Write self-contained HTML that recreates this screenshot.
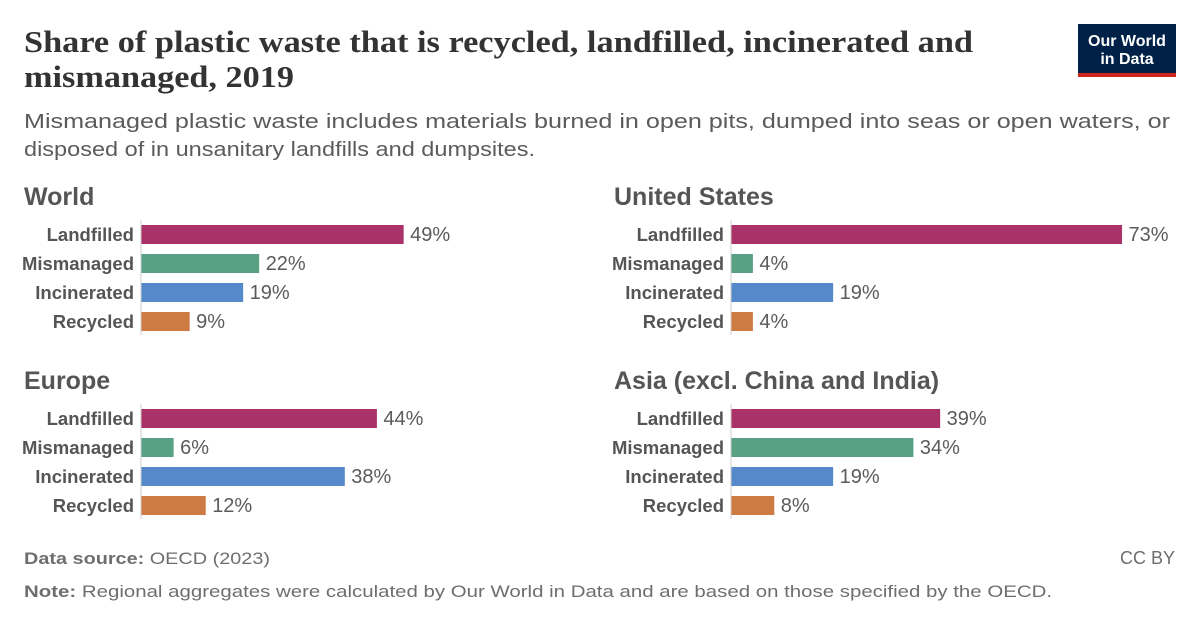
<!DOCTYPE html>
<html><head><meta charset="utf-8"><style>
body{margin:0;background:#fff;width:1200px;height:627px;overflow:hidden;font-family:"Liberation Sans",sans-serif}
</style></head><body>
<svg id="chart" width="1200" height="627" xmlns="http://www.w3.org/2000/svg">
<text x="24" y="52" font-family="Liberation Serif" font-weight="bold" font-size="31" fill="#333" textLength="949" lengthAdjust="spacingAndGlyphs">Share of plastic waste that is recycled, landfilled, incinerated and</text>
<text x="24" y="87" font-family="Liberation Serif" font-weight="bold" font-size="31" fill="#333" textLength="270" lengthAdjust="spacingAndGlyphs">mismanaged, 2019</text>
<text x="24" y="128" font-size="20" fill="#5b5b5b" textLength="1146" lengthAdjust="spacingAndGlyphs">Mismanaged plastic waste includes materials burned in open pits, dumped into seas or open waters, or</text>
<text x="24" y="156" font-size="20" fill="#5b5b5b" textLength="511" lengthAdjust="spacingAndGlyphs">disposed of in unsanitary landfills and dumpsites.</text>
<g>
<rect x="1078" y="24" width="98" height="50" fill="#002147"/>
<rect x="1078" y="73" width="98" height="4" fill="#ce261e"/>
<text x="1127" y="46" text-anchor="middle" font-size="16" font-weight="bold" fill="#fff">Our World</text>
<text x="1127" y="64" text-anchor="middle" font-size="16" font-weight="bold" fill="#fff">in Data</text>
</g>
<g id="panels"></g>
<text x="24" y="564" font-size="17" fill="#6e6e6e" textLength="246" lengthAdjust="spacingAndGlyphs"><tspan font-weight="bold">Data source:</tspan> OECD (2023)</text>
<text x="1175" y="564" text-anchor="end" font-size="18" fill="#6e6e6e">CC BY</text>
<text x="24" y="597" font-size="17" fill="#6e6e6e" textLength="1028" lengthAdjust="spacingAndGlyphs"><tspan font-weight="bold">Note:</tspan> Regional aggregates were calculated by Our World in Data and are based on those specified by the OECD.</text>
</svg>
<script>
const regions = ["World","United States","Europe","Asia (excl. China and India)"];
const categories = ["Landfilled","Mismanaged","Incinerated","Recycled"];
const worldValues = [49,22,19,9];
const usValues = [73,4,19,4];
const europeValues = [44,6,38,12];
const asiaValues = [39,34,19,8];
const allValues = [worldValues,usValues,europeValues,asiaValues];
const colors = ["#a93369","#58a184","#5589c9","#ce7a43"];
const NS="http://www.w3.org/2000/svg";
const g=document.getElementById('panels');
const scale=v=>v*5.35;
function mk(tag,attrs,parent){const e=document.createElementNS(NS,tag);for(const k in attrs)e.setAttribute(k,attrs[k]);parent.appendChild(e);return e;}
regions.forEach((r,i)=>{
  const ox = i%2===0 ? 141 : 731;
  const tx = i%2===0 ? 24 : 614;
  const oy = i<2 ? 225 : 409;
  const pg=mk('g',{},g);
  
  
  const t=mk('text',{x:tx,y:oy-20,'font-size':25,'font-weight':'bold',fill:'#555'},pg);
  t.textContent=r;
  
  
  const ax=mk('line',{x1:ox,x2:ox,y1:oy-5,y2:oy+110,stroke:'#ccc','stroke-width':1},pg);
  
  
  categories.forEach((c,j)=>{
    const y=oy+j*29;
    const v=allValues[i][j];
    const lab=mk('text',{x:ox-7,y:y+16,'text-anchor':'end','font-size':18.5,'font-weight':'bold',fill:'#555'},pg);
    lab.textContent=c;
    
    
    const b=mk('rect',{x:ox+0.5,y:y,width:scale(v),height:19,fill:colors[j]},pg);
    
    
    const vl=mk('text',{x:ox+scale(v)+7,y:y+16,'font-size':20,fill:'#5b5b5b'},pg);
    vl.textContent=v+'%';
    
    
  });
});
</script>
</body></html>
